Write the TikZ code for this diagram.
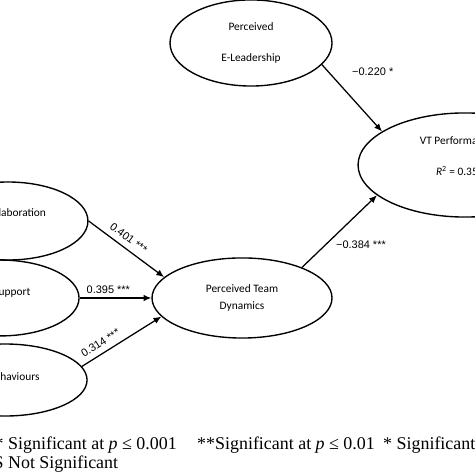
\documentclass[tikz,border=0pt]{standalone}
\usepackage{fontspec}
\usepackage{tikz}
\usetikzlibrary{arrows.meta, shapes.geometric}
\setmainfont{Liberation Serif}
\newfontfamily\calfont{Carlito}
\newfontfamily\arialfont{Liberation Sans}

\begin{document}
\begin{tikzpicture}[
    ell/.style={ellipse, draw=black, line width=1.3pt, inner sep=0pt,
                align=center, font=\calfont\fontsize{10.8}{12.8}\selectfont},
    txt/.style={align=center, inner sep=0pt,
                font=\calfont\fontsize{10.8}{12.8}\selectfont},
    coef/.style={font=\arialfont\fontsize{10.4}{12}\selectfont},
    note/.style={anchor=base west, inner sep=0pt,
                 font=\fontsize{17}{20}\selectfont},
    arr/.style={-{Latex[length=2.6mm, width=2.2mm]}, line width=1.2pt},
]
\useasboundingbox (0, 0) rectangle (15.8, 15.8);

\node[ell, minimum width=5.4cm, minimum height=2.87cm] (lead) at (8.367, 14.367)
    {Perceived\\[16pt]E-Leadership};

\node[ell, minimum width=7.13cm, minimum height=3.47cm,
      label={[txt, name=vttxt, xshift=-0.27cm, yshift=0.3cm]center:{VT Performance\\[17pt]\textit{R}\textsuperscript{2} = 0.35}}]
    (vt) at (15.5, 10.3) {};

\node[ell, minimum width=6cm, minimum height=2.67cm] (ptd) at (8.067, 5.867)
    {Perceived Team\\[3.4pt]Dynamics};

\node[ell, minimum width=5.33cm, minimum height=2.6cm,
      label={[txt, name=coltxt, xshift=0.23cm, yshift=0.27cm]center:Collaboration}]
    (collab) at (0.267, 8.433) {};

\node[ell, minimum width=5.27cm, minimum height=2.53cm,
      label={[txt, name=suptxt, xshift=0.4cm, yshift=0.17cm]center:Support}]
    (supp) at (0, 5.867) {};

\node[ell, minimum width=5.47cm, minimum height=2.4cm,
      label={[txt, name=behtxt, xshift=0.3cm, yshift=0.1cm]center:Behaviours}]
    (behav) at (0.167, 3.133) {};

\draw[arr] (collab.east) -- node[coef, pos=0.45, above=2pt, sloped] {0.401 ***} (ptd.165);
\draw[arr] (supp.east) -- node[coef, pos=0.4, above] {0.395 ***} (ptd.west);
\draw[arr] (behav.10) -- node[coef, pos=0.3, above=2pt, sloped] {0.314 ***} (ptd.193);
\draw[arr] (ptd.27) -- node[coef, pos=0.32, right=0.2cm] {−0.384 ***} (vt.199);
\draw[arr] (lead.343) -- node[coef, pos=0.1, right=0.67cm] {−0.220 *} (vt.158);

\node[note] (sig1) at (-0.78, 0.833) {*** Significant at \textit{p} ≤ 0.001};
\node[note] (sig2) at (6.567, 0.833) {**Significant at \textit{p} ≤ 0.01};
\node[note] (sig3) at (12.767, 0.833) {* Significant at \textit{p} ≤ 0.05};
\node[note] (ns) at (-0.65, 0.167) {NS Not Significant};

\end{tikzpicture}
\end{document}
